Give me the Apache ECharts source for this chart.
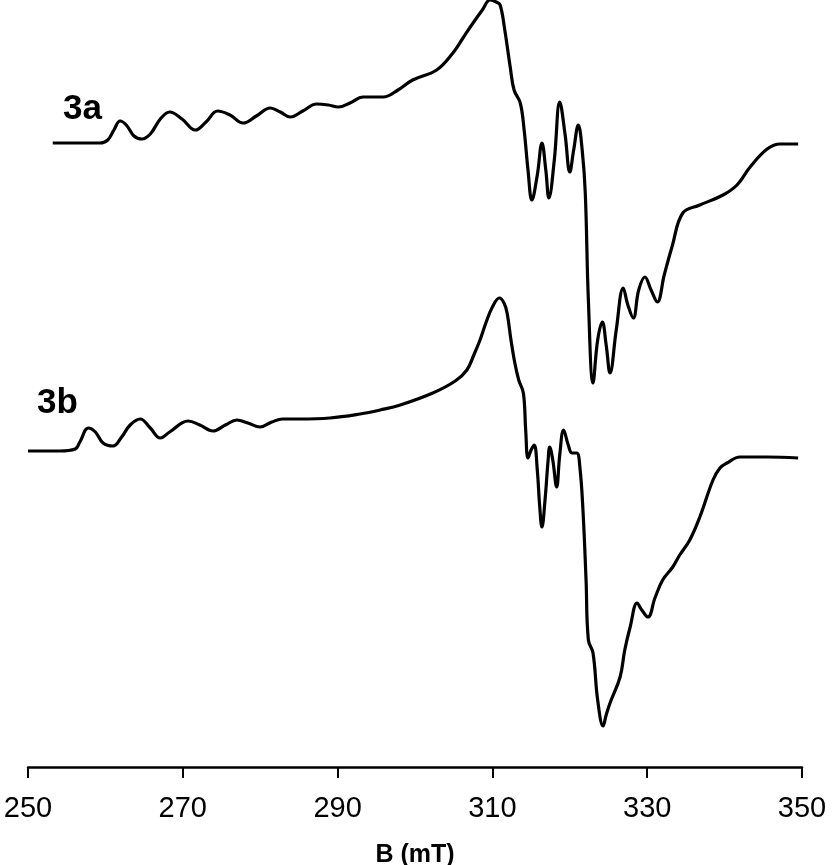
<!DOCTYPE html>
<html>
<head>
<meta charset="utf-8">
<title>EPR 3a / 3b</title>
<script src="https://cdn.jsdelivr.net/npm/echarts@6/dist/echarts.min.js"></script>
<style>
	html, body { margin: 0; padding: 0; background: #fff; }
	#epr-chart { width: 832px; height: 865px; }
</style>
</head>
<body>
<div id="epr-chart"></div>
<script>
"use strict";
// 磁场 B (mT)，从图上读出的点
var bField3a = [253.2, 259.3, 260.3, 261.1, 261.9, 262.7, 263.7, 264.7, 265.8, 267.1,
	268.3, 269.9, 271.6, 273.0, 274.5, 276.1, 277.8, 279.5, 281.3, 282.6,
	283.9, 285.5, 287.3, 288.8, 290.1, 291.6, 293.3, 295.9, 297.8, 299.7,
	302.8, 304.9, 306.2, 307.5, 308.7, 309.7, 310.5, 311.0, 311.6, 312.3,
	312.8, 313.6, 314.1, 314.6, 315.1, 315.8, 316.4, 316.9, 317.3, 318.0,
	318.7, 319.4, 320.0, 320.5, 321.1, 321.6, 322.0, 322.4, 323.0, 323.6,
	324.2, 324.7, 325.2, 326.0, 326.9, 327.5, 328.2, 328.9, 329.7, 330.5,
	331.3, 332.2, 333.2, 334.6, 336.8, 339.8, 341.6, 343.3, 345.5, 347.2, 349.5];
// 信号强度（任意单位，已含纵向偏移）
var signal3a = [624, 624, 627, 637, 646, 642, 631, 628, 633, 648,
	655, 648, 637, 645, 656, 652, 644, 651, 659, 655,
	650, 656, 663, 662, 660, 664, 670, 670, 677, 687,
	697, 714, 729, 744, 757, 767, 765, 762, 737, 700,
	677, 664, 637, 597, 567, 592, 624, 597, 569, 607,
	665, 632, 595, 617, 642, 617, 574, 467, 384, 427,
	445, 422, 394, 437, 479, 462, 449, 477, 490, 477,
	465, 492, 520, 554, 562, 572, 582, 600, 618, 623, 623];

var bField3b = [250.0, 254.1, 256.1, 256.7, 257.8, 258.7, 259.7, 261.0, 262.1, 263.2,
	264.5, 265.8, 267.1, 268.3, 270.7, 272.2, 273.9, 275.5, 277.0, 278.4,
	280.0, 281.5, 282.9, 285.1, 289.0, 292.9, 295.5, 298.1, 302.3, 305.2,
	306.7, 307.6, 308.4, 309.2, 310.0, 310.9, 311.5, 311.9, 312.4, 312.9,
	313.4, 314.0, 314.3, 314.6, 315.0, 315.4, 315.8, 316.1, 316.4, 316.8,
	317.2, 317.4, 317.8, 318.3, 318.7, 319.2, 319.8, 320.3, 320.9, 321.3,
	321.7, 322.1, 322.4, 323.0, 323.6, 324.3, 324.7, 325.2, 326.5, 327.1,
	327.8, 328.7, 329.3, 330.1, 331.0, 332.0, 333.3, 334.2, 335.5, 336.8,
	338.5, 339.4, 340.3, 342.0, 345.5, 349.5];
var signal3b = [316, 316, 318, 325, 339, 335, 324, 321, 330, 342,
	348, 339, 329, 335, 346, 342, 336, 342, 347, 344,
	340, 345, 348, 348, 349, 353, 357, 362, 374, 386,
	397, 412, 427, 445, 460, 469, 464, 454, 427, 404,
	387, 374, 337, 309, 317, 322, 297, 262, 240, 267,
	307, 320, 307, 280, 312, 337, 322, 314, 314, 300,
	257, 187, 127, 114, 67, 41, 52, 64, 90, 117,
	140, 164, 157, 150, 169, 187, 200, 212, 227, 250,
	287, 299, 304, 310, 310, 309];

// 把两组数组合成 [x, y] 的点
function pairUp(xs, ys) {
	var out = [];
	for (var i = 0; i < xs.length; i++) {
		out.push([xs[i], ys[i]]);
	}
	return out;
}

var myChart = echarts.init(document.getElementById('epr-chart'));
var lineStyle = { color: '#000', width: 3.2 };
var option = {
	backgroundColor: '#fff',
	animation: false,
	// v6 默认会把网格缩进去以容纳标签，这里关掉
	grid: { left: 28, right: 30, top: 0, bottom: 98, outerBoundsMode: 'none' },
	xAxis: {
		type: 'value',
		min: 250,
		max: 350,
		interval: 20,
		name: 'B (mT)',
		nameLocation: 'middle',
		nameGap: 76,
		nameMoveOverlap: false,
		nameTextStyle: {
			color: '#000',
			fontFamily: 'Liberation Sans, Arial, sans-serif',
			fontWeight: 'bold',
			fontSize: 25
		},
		axisLine: { lineStyle: { color: '#000', width: 2.5 } },
		axisTick: { length: 11, lineStyle: { color: '#000', width: 2 } },
		axisLabel: {
			margin: 27,
			color: '#000',
			fontFamily: 'Liberation Sans, Arial, sans-serif',
			fontSize: 29
		},
		splitLine: { show: false }
	},
	yAxis: {
		type: 'value',
		show: false,
		min: 0,
		max: 767
	},
	series: [
		{
			name: '3a',
			type: 'line',
			data: pairUp(bField3a, signal3a),
			showSymbol: false,
			smooth: 0.4,
			clip: false,
			lineStyle: lineStyle
		},
		{
			name: '3b',
			type: 'line',
			data: pairUp(bField3b, signal3b),
			showSymbol: false,
			smooth: 0.4,
			clip: false,
			lineStyle: lineStyle
		}
	],
	// 曲线旁的标签
	graphic: [
		{
			type: 'text', left: 63, top: 92,
			style: { text: '3a', fill: '#000', font: 'bold 35px Liberation Sans, Arial, sans-serif' }
		},
		{
			type: 'text', left: 37, top: 386,
			style: { text: '3b', fill: '#000', font: 'bold 35px Liberation Sans, Arial, sans-serif' }
		}
	]
};
myChart.setOption(option);
</script>
</body>
</html>
